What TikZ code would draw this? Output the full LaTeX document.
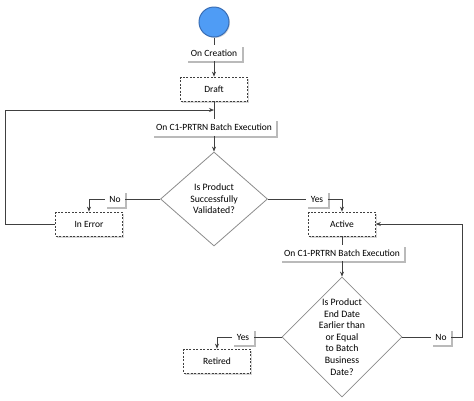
\documentclass[tikz,border=0pt]{standalone}
\usepackage{fontspec}
\setmainfont{Carlito}
\usetikzlibrary{shapes.geometric,arrows.meta,shadows,positioning}
\definecolor{lineC}{HTML}{404040}
\definecolor{diaC}{HTML}{8C8C8C}
\definecolor{startFill}{HTML}{4F9CF5}
\definecolor{startDraw}{HTML}{3A6EB5}
\tikzset{
  conn/.style={draw=lineC, line width=0.7pt},
  arr/.style={conn, -{Stealth[length=5pt,width=4pt]}},
  lbl/.style={fill=white, inner xsep=4.5pt, inner ysep=0pt, minimum height=16.5pt,
    font=\fontsize{9.5}{11}\selectfont,
    drop shadow={shadow xshift=2pt, shadow yshift=-2pt, fill=black!45, opacity=0.6}},
  statebox/.style={draw=lineC, line width=0.7pt, dash pattern=on 2pt off 1.5pt, fill=white,
    minimum width=67pt, minimum height=24pt, font=\fontsize{9.5}{11}\selectfont,
    drop shadow={shadow xshift=1.5pt, shadow yshift=-1.5pt, fill=black!30, opacity=0.5}},
  decision/.style={diamond, draw=diaC, line width=0.8pt, fill=white, inner sep=0pt},
  dtext/.style={align=center, font=\fontsize{9.8}{11.6}\selectfont}
}
\begin{document}
\begin{tikzpicture}[x=1pt, y=-1pt]
\useasboundingbox (0,0) rectangle (474,400);
% nodes
\node[circle, fill=startFill, draw=startDraw, line width=1pt, minimum size=30pt, inner sep=0pt,
  drop shadow={shadow xshift=1pt, shadow yshift=-1pt, fill=black!30, opacity=0.5}] (start) at (214,22) {};
\node[lbl] (oncre) at (214,53) {On Creation};
\node[statebox] (draft) at (214,89) {Draft};
\node[lbl] (batch1) at (214,127.5) {On C1-PRTRN Batch Execution};
\node[decision, minimum width=107pt, minimum height=94pt,
  label={[dtext]center:Is Product\\Successfully\\Validated?}] (d1) at (214,199) {};
\node[lbl] (no1) at (115,199) {No};
\node[statebox] (inerror) at (89,224) {In Error};
\node[lbl] (yes1) at (317,199) {Yes};
\node[statebox] (active) at (342,224) {Active};
\node[lbl] (batch2) at (342,253) {On C1-PRTRN Batch Execution};
\node[decision, minimum width=120pt, minimum height=120pt,
  label={[dtext]center:Is Product\\End Date\\Earlier than\\or Equal\\to Batch\\Business\\Date?}] (d2) at (342,337) {};
\node[lbl] (yes2) at (243,337) {Yes};
\node[statebox] (retired) at (217,361) {Retired};
\node[lbl] (no2) at (441,337) {No};
\coordinate (L) at (5,110);
\coordinate (J) at (214,110);
\coordinate (R) at (462,224);
% connectors
\draw[conn] (start) -- (oncre);
\draw[arr] (oncre) -- (draft);
\draw[conn] (draft) -- (batch1);
\draw[arr] (batch1) -- (d1);
\draw[conn] (d1.west) -- (no1.east);
\draw[arr] (no1.west) -| (inerror.north);
\draw[arr] (inerror.west) -| (L) -- (J);
\draw[conn] (d1.east) -- (yes1.west);
\draw[arr] (yes1.east) -| (active.north);
\draw[conn] (active) -- (batch2);
\draw[arr] (batch2) -- (d2);
\draw[conn] (d2.west) -- (yes2.east);
\draw[arr] (yes2.west) -| (retired.north);
\draw[conn] (d2.east) -- (no2.west);
\draw[arr] (no2.east) -| (R) -- (active.east);
\end{tikzpicture}
\end{document}
